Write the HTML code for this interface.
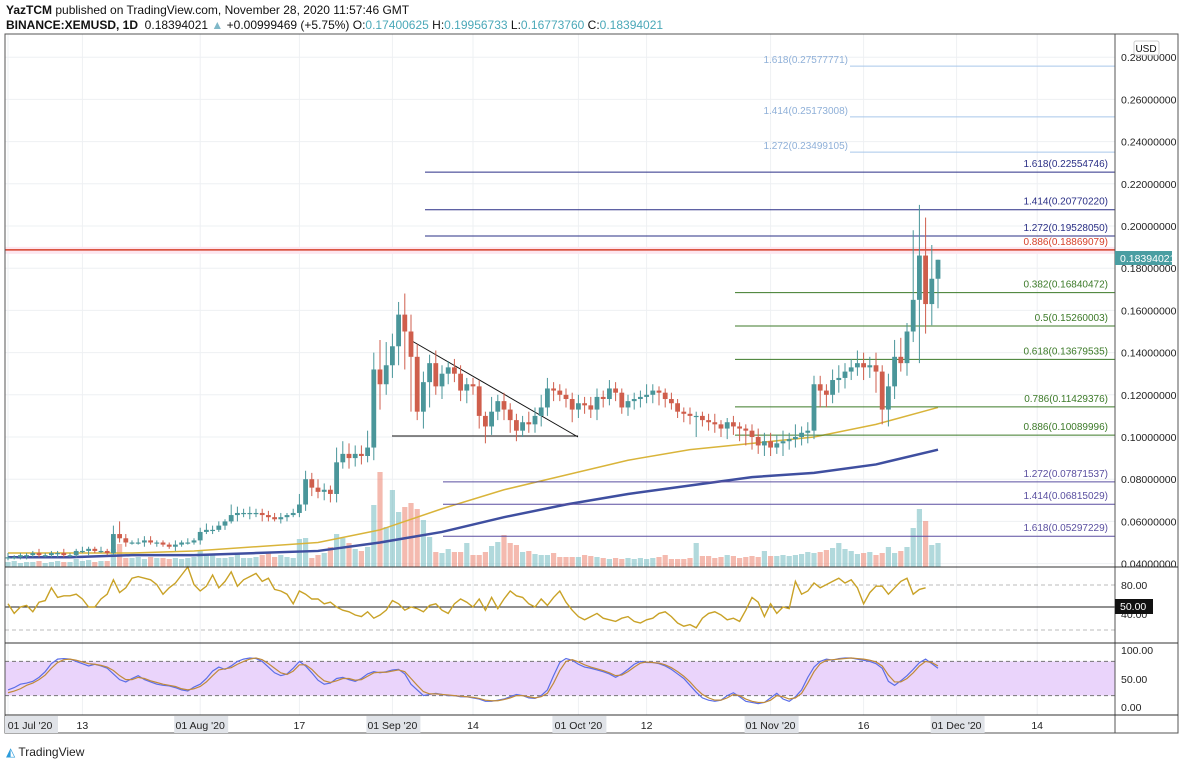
<!DOCTYPE html>
<html><head><meta charset="utf-8">
<style>
body{margin:0;background:#fff;font-family:"Liberation Sans",sans-serif;}
#wrap{position:relative;width:1185px;height:768px;overflow:hidden;}
.hdr{position:absolute;left:6px;font-size:12px;color:#111;white-space:nowrap;}
</style></head>
<body>
<div id="wrap">
<div class="hdr" style="top:3px"><b>YazTCM</b> published on TradingView.com, November 28, 2020 11:57:46 GMT</div>
<div class="hdr" style="top:18px"><b>BINANCE:XEMUSD, 1D</b>&nbsp; 0.18394021 <span style="color:#7fb8c8">▲</span> +0.00999469 (+5.75%) O:<span style="color:#4aa8b8">0.17400625</span> H:<span style="color:#4aa8b8">0.19956733</span> L:<span style="color:#4aa8b8">0.16773760</span> C:<span style="color:#4aa8b8">0.18394021</span></div>
<svg id="chart" width="1185" height="768" style="position:absolute;left:0;top:0" font-family="Liberation Sans, sans-serif"></svg>
<div style="position:absolute;left:6px;top:745px;font-size:12px;color:#222"><span style="color:#2d9cdb">◭</span> TradingView</div>
</div>
<script>
const closes=[.043,.043,.044,.044,.045,.044,.044,.045,.045,.044,.044,.046,
.046,.047,.046,.046,.045,
.054,.052,.050,.050,.050,.051,.050,.050,.049,.048,
.049,.050,.050,.051,
.055,.056,.056,.058,.060,.063,.064,.064,.064,.064,
.063,.062,.061,.062,.063,.064,
.068,.080,.076,.074,.075,.073,.088,.092,.090,.092,.091,.095,
.132,.125,.134,.143,.158,
.150,.138,.112,.126,.135,.124,.130,.133,.130,.122,.125,.124,.110,.105,.112,.117,.113,.108,
.103,.107,.106,.110,.114,.123,.122,.120,.118,.113,.116,
.115,.113,.119,.118,.123,.121,.114,.117,.118,.119,.120,.122,.121,.118,.116,.112,.111,.110,.110,.108,.107,.106,.104,.107,.105,.104,.103,.100,.096,.098,.095,
.097,.098,.099,.100,.102,.103,.125,.122,.120,.127,.128,.131,.133,.135,.133,.134,.131,.113,.124,.138,.135,.150,.165,.186,.163,.175,.184];
const wickUp=[.002,.001,.001,.001,.001,.002,.001,.001,.001,.002,.001,.001,.002,.001,.001,.002,.001,.004,.006,.002,.001,.002,.002,.002,.001,.001,.001,.002,.001,.002,.001,.002,.003,.002,.002,.001,.005,.003,.002,.003,.002,.002,.002,.002,.002,.001,.002,.005,.004,.003,.004,.003,.002,.007,.006,.005,.004,.004,.008,.008,.014,.011,.006,.006,.010,.008,.006,.005,.004,.006,.004,.003,.004,.004,.003,.003,.003,.002,.007,.003,.004,.003,.003,.003,.005,.004,.006,.005,.003,.003,.003,.003,.004,.003,.004,.004,.003,.004,.003,.002,.003,.003,.003,.005,.003,.002,.002,.003,.002,.002,.003,.002,.002,.003,.004,.002,.002,.003,.002,.002,.003,.004,.004,.004,.004,.005,.003,.006,.003,.004,.004,.004,.003,.005,.006,.004,.004,.006,.005,.004,.006,.003,.006,.008,.009,.004,.033,.024,.018,.016];
const wickDn=[.001,.001,.001,.002,.001,.001,.001,.001,.002,.001,.001,.001,.001,.002,.001,.001,.001,.001,.002,.002,.001,.001,.002,.001,.002,.001,.001,.002,.001,.001,.001,.002,.001,.002,.001,.002,.001,.003,.002,.003,.002,.003,.002,.001,.002,.002,.001,.002,.003,.004,.003,.004,.004,.004,.003,.005,.004,.004,.003,.006,.012,.005,.006,.009,.018,.026,.004,.008,.012,.004,.006,.005,.004,.005,.006,.004,.006,.008,.004,.004,.005,.006,.005,.003,.004,.004,.005,.004,.005,.003,.004,.006,.004,.004,.004,.005,.004,.003,.004,.003,.004,.004,.004,.003,.004,.006,.004,.003,.003,.004,.004,.010,.003,.004,.004,.004,.005,.004,.006,.007,.006,.004,.005,.004,.003,.006,.004,.004,.004,.005,.004,.008,.006,.004,.006,.005,.004,.004,.006,.005,.010,.007,.008,.006,.004,.006,.005,.030,.014,.010,.014];
const volumes=[5,6,4,5,5,6,4,5,6,5,5,8,6,7,5,6,6,18,23,9,9,10,8,10,9,9,8,9,8,9,10,16,13,12,9,9,10,13,9,9,10,12,14,10,12,10,9,28,29,9,12,14,20,33,29,24,18,16,20,62,95,40,77,55,60,64,58,47,30,15,14,18,15,15,24,12,12,15,21,25,32,24,22,15,16,13,12,12,14,10,10,10,10,12,11,10,9,8,9,8,9,8,9,8,9,10,12,8,8,8,9,24,11,11,9,10,12,11,9,10,11,10,16,11,11,12,11,12,13,15,14,15,17,19,24,18,16,13,14,15,12,14,20,14,16,20,39,58,46,22,24];
const maDays=[0,10,20,30,40,50,60,70,80,90,100,110,120,130,140,150];
const ma50=[.045,.045,.045,.046,.048,.050,.056,.066,.075,.082,.089,.094,.097,.100,.106,.114];
const ma200=[.043,.043,.044,.044,.045,.046,.050,.055,.062,.068,.073,.077,.081,.083,.087,.094];
const rsi=[52,46,50,51,47,53,54,62,56,57,57,58,55,50,50,55,58,67,59,62,68,69,68,67,64,58,62,65,70,75,64,60,63,70,62,66,72,63,67,69,71,66,68,61,60,58,52,60,58,55,55,52,53,50,48,47,45,44,47,43,45,48,54,52,48,50,49,47,51,52,48,46,52,55,53,50,55,48,56,49,55,60,57,56,52,50,55,51,56,60,53,48,44,42,44,46,43,42,41,43,44,41,40,42,43,46,47,44,40,38,39,37,43,46,47,45,42,43,41,48,56,53,44,52,46,50,49,66,58,60,65,62,64,66,68,65,67,62,52,59,63,63,58,62,66,68,58,61,62];
const stochK=[30,34,40,42,45,52,62,76,84,85,84,80,76,72,75,72,68,58,48,44,50,55,48,44,40,38,37,34,30,28,35,40,50,63,70,66,72,80,84,86,85,80,70,60,55,58,68,80,72,60,47,40,42,50,52,48,45,50,58,62,60,62,65,66,58,40,30,20,22,24,22,20,20,18,18,16,14,10,10,12,14,18,22,20,16,15,20,30,55,78,85,82,75,70,68,65,62,58,52,58,66,75,80,78,78,76,72,66,58,50,38,26,16,12,10,12,20,25,18,10,8,6,8,16,24,14,10,18,30,52,70,80,84,82,85,86,86,84,82,80,76,68,45,38,46,55,66,78,84,76,68];
const stochD=[25,28,32,38,42,48,56,68,78,83,84,82,79,76,75,73,70,64,55,48,48,52,50,46,43,40,38,36,32,30,32,36,44,55,65,67,69,75,80,84,86,83,76,68,60,57,63,74,74,66,55,46,43,46,50,50,47,48,54,60,61,61,63,65,62,50,38,27,23,23,22,21,20,19,18,17,15,12,11,11,13,16,20,20,18,16,18,24,42,64,80,83,79,74,70,67,64,60,55,56,62,70,77,79,78,77,74,69,62,54,44,32,22,16,12,12,16,22,20,14,10,8,8,12,20,18,14,16,24,42,62,76,82,83,84,85,86,85,84,82,79,72,56,44,44,50,60,72,80,78,72];
const fibLevels=["1.618","1.414","1.272","1.618","1.414","1.272","0.886","0.382","0.5","0.618","0.786","0.886","1.272","1.414","1.618"];
const fibValues=[0.27577771,0.25173008,0.23499105,0.22554746,0.20770220,0.19528050,0.18869079,0.16840472,0.15260003,0.13679535,0.11429376,0.10089996,0.07871537,0.06815029,0.05297229];
const fibGroup=["light","light","light","navy","navy","navy","red","green","green","green","green","green","purple","purple","purple"];
const priceTicks=[0.04,0.06,0.08,0.10,0.12,0.14,0.16,0.18,0.20,0.22,0.24,0.26,0.28];
const dateTicks=[{d:0,t:"01 Jul '20",b:1},{d:12,t:"13",b:0},{d:31,t:"01 Aug '20",b:1},{d:47,t:"17",b:0},{d:62,t:"01 Sep '20",b:1},{d:75,t:"14",b:0},{d:92,t:"01 Oct '20",b:1},{d:103,t:"12",b:0},{d:123,t:"01 Nov '20",b:1},{d:138,t:"16",b:0},{d:153,t:"01 Dec '20",b:1},{d:166,t:"14",b:0}];

const NS="http://www.w3.org/2000/svg",svg=document.getElementById('chart');
const L=5,R=1115,PT=34,PB=567,RT=567,RB=643,ST=643,SB=715,XB=733;
const xd=d=>8+d*6.2;
const yp=p=>437-(p-0.1)*2110;
const yr=v=>607-(v-50)*1.6;
const ys=v=>707-v*0.57;
function el(tag,attrs,name,parent){const e=document.createElementNS(NS,tag);for(const k in attrs)e.setAttribute(k,attrs[k]);


(parent||svg).appendChild(e);return e;}
dateTicks.forEach(t=>{el('line',{x1:xd(t.d),x2:xd(t.d),y1:PT,y2:SB,stroke:'#eef0f3'},'v-gridline');});
priceTicks.forEach(p=>{el('line',{x1:L,x2:R,y1:yp(p),y2:yp(p),stroke:'#eef0f3'},'h-gridline');});
el('rect',{x:L,y:yp(0.18869079)-3,width:R-L,height:7,fill:'#fde6ef'},'resistance-band');
closes.forEach((c,i)=>{const o=i?closes[i-1]:c;const up=c>=o;const v=volumes[i]||0;
el('rect',{x:xd(i)-2.6,y:PB-v,width:5.2,height:v,fill:up?'rgba(100,180,185,0.5)':'rgba(235,130,110,0.55)'},'volume-bar');});
function poly(xs,ys_,col,w,name){el('polyline',{points:xs.map((x,i)=>x+','+ys_[i]).join(' '),fill:'none',stroke:col,'stroke-width':w},name);}
poly(maDays.map(xd),ma50.map(yp),'#d9b43a',1.5,'ma50-line');
poly(maDays.map(xd),ma200.map(yp),'#3f4fa0',2.5,'ma200-line');
const fibCol={light:'#a9c7ea',navy:'#2a2f86',red:'#d6402a',green:'#3c7a28',purple:'#5a4fa0'};
const fibStart={light:850,navy:425,red:L,green:735,purple:443};
fibValues.forEach((v,i)=>{const g=fibGroup[i],y=yp(v),c=fibCol[g];
el('line',{x1:fibStart[g],x2:R,y1:y,y2:y,stroke:c,'stroke-width':g=='red'?1.5:1},'fib-line');
const tx=g=='light'?848:1108;
const t=el('text',{x:tx,y:y-(g=='light'?3:5),'text-anchor':'end','font-size':10,fill:g=='light'?'#8fb0d8':c},'fib-label');
t.textContent=fibLevels[i]+'('+v.toFixed(8)+')';});
el('line',{x1:412,y1:341,x2:578,y2:437,stroke:'#111','stroke-width':1},'triangle-upper');
el('line',{x1:392,y1:436,x2:578,y2:436,stroke:'#111','stroke-width':1},'triangle-lower');
closes.forEach((c,i)=>{const o=i?closes[i-1]:c*0.99;const up=c>=o;const col=up?'#4a969a':'#cf5e4c';
const hi=Math.max(o,c)+(wickUp[i]||0),lo=Math.min(o,c)-(wickDn[i]||0);const x=xd(i);
el('line',{x1:x,x2:x,y1:yp(hi),y2:yp(lo),stroke:col,'stroke-width':1},'candle-wick');
const y1=yp(Math.max(o,c)),y2=yp(Math.min(o,c));
el('rect',{x:x-2.4,y:y1,width:4.8,height:Math.max(1.2,y2-y1),fill:col},'candle-body');});
el('line',{x1:L,x2:R,y1:585,y2:585,stroke:'#bbb','stroke-dasharray':'4,3'},'rsi-upper-band');
el('line',{x1:L,x2:R,y1:630,y2:630,stroke:'#bbb','stroke-dasharray':'4,3'},'rsi-lower-band');
el('line',{x1:L,x2:1122,y1:607,y2:607,stroke:'#222'},'rsi-midline');
poly(rsi.map((v,i)=>xd(i)),rsi.map(yr),'#c9a227',1.4,'rsi-line');
el('rect',{x:L,y:ys(80),width:R-L,height:ys(20)-ys(80),fill:'#ead4fb'},'stoch-band');
el('line',{x1:L,x2:R,y1:ys(80),y2:ys(80),stroke:'#777','stroke-dasharray':'4,3'},'stoch-upper');
el('line',{x1:L,x2:R,y1:ys(20),y2:ys(20),stroke:'#777','stroke-dasharray':'4,3'},'stoch-lower');
poly(stochK.map((v,i)=>xd(i)),stochK.map(ys),'#5b6ee8',1.2,'stoch-k-line');
poly(stochD.map((v,i)=>xd(i)),stochD.map(ys),'#c08a3a',1.2,'stoch-d-line');
el('rect',{x:L,y:PT,width:1178-L,height:XB-PT,fill:'none',stroke:'#555'},'chart-frame');
el('line',{x1:R,x2:R,y1:PT,y2:XB,stroke:'#555'},'price-axis-border');
[PB,RB,SB].forEach(y=>el('line',{x1:L,x2:1178,y1:y,y2:y,stroke:'#333'},'pane-separator'));
priceTicks.forEach(p=>{const t=el('text',{x:1121,y:yp(p)+4,'font-size':10.5,fill:'#222'},'price-tick');t.textContent=p.toFixed(8);});
el('rect',{x:1134,y:41,width:25,height:14,rx:2,fill:'#fff',stroke:'#ccc'},'currency-box');
const usd=el('text',{x:1146,y:52,'text-anchor':'middle','font-size':10,fill:'#111'},'currency-label');usd.textContent='USD';
el('rect',{x:1115,y:251,width:57,height:14,fill:'#4a9ea2'},'last-price-box');
const lp=el('text',{x:1120,y:262,'font-size':10.5,fill:'#fff'},'last-price');lp.textContent='0.18394021';
[[80,585],[40,614]].forEach(a=>{const t=el('text',{x:1121,y:a[1]+4,'font-size':10.5,fill:'#222'},'rsi-tick');t.textContent=a[0].toFixed(2);});
el('rect',{x:1115,y:599,width:38,height:15,fill:'#111'},'rsi-50-box');
const r50=el('text',{x:1120,y:610,'font-size':10.5,fill:'#fff'},'rsi-tick');r50.textContent='50.00';
[[100,650],[50,679],[0,707]].forEach(a=>{const t=el('text',{x:1121,y:a[1]+4,'font-size':10.5,fill:'#222'},'stoch-tick');t.textContent=a[0].toFixed(2);});
dateTicks.forEach(t=>{const x=xd(t.d);
if(t.b){el('rect',{x:x-(t.d==0?3:26),y:716,width:t.d==0?53:54,height:17,fill:'#e0e3e8'},'date-label-bg');}
const tx=el('text',{x:t.d==0?x+22:x,y:729,'text-anchor':'middle','font-size':10.5,fill:'#222'},'date-tick');tx.textContent=t.t;});
</script>
</body></html>
